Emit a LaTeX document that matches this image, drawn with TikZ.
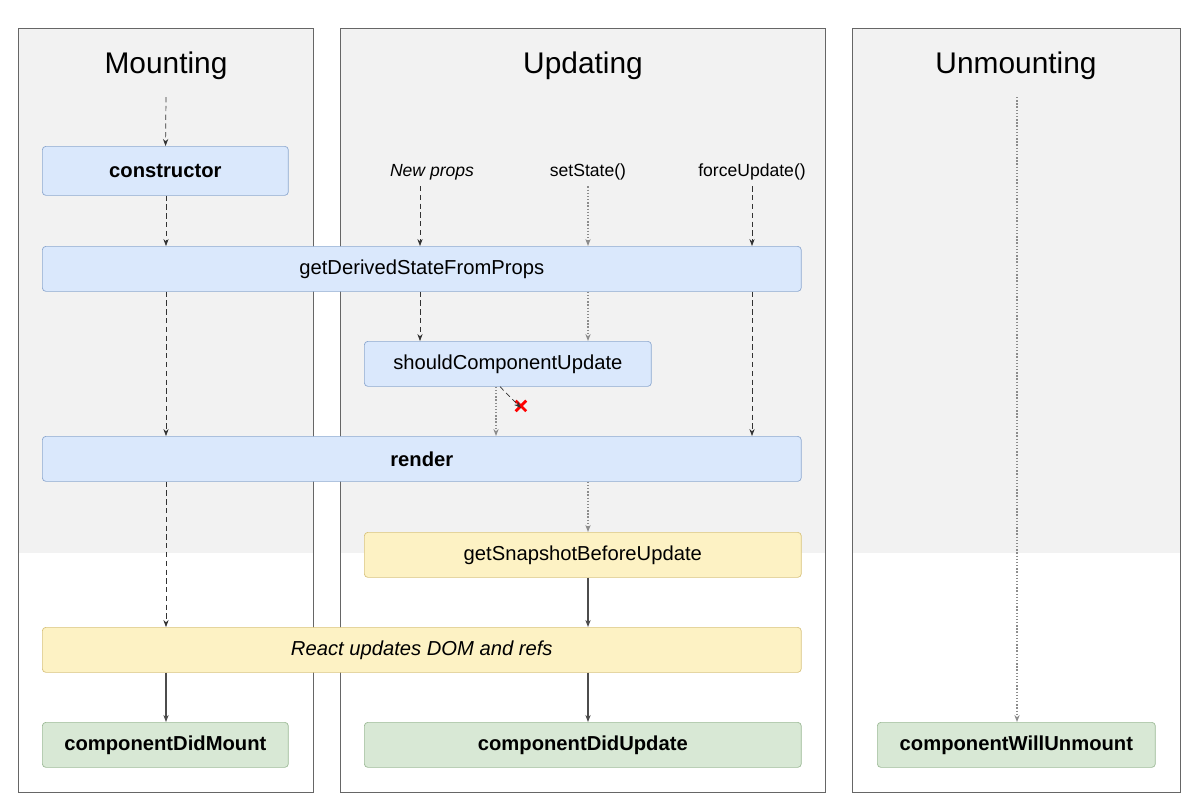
\documentclass[tikz,border=0pt]{standalone}
\usepackage{fontspec}
\setmainfont{Liberation Sans}
\usetikzlibrary{arrows.meta}
\definecolor{blueBox}{HTML}{DAE8FC}
\definecolor{blueLine}{HTML}{8EA9D0}
\definecolor{yellowBox}{HTML}{FDF2C4}
\definecolor{yellowLine}{HTML}{D9C47E}
\definecolor{greenBox}{HTML}{D8E8D5}
\definecolor{greenLine}{HTML}{9EBB98}
\definecolor{panelTop}{HTML}{F2F2F2}
\tikzset{
    phase/.style={draw=black!60, line width=0.5pt},
    stage/.style={rectangle, rounded corners=2pt, anchor=north west, inner sep=0pt, font=\fontsize{11.5}{14}\selectfont},
    blueStage/.style={stage, fill=blueBox, draw=blueLine},
    yellowStage/.style={stage, fill=yellowBox, draw=yellowLine},
    greenStage/.style={stage, fill=greenBox, draw=greenLine},
    title/.style={font=\fontsize{17}{20}\selectfont},
    trigger/.style={font=\fontsize{10}{12}\selectfont},
    flow/.style={-{Stealth[length=4pt]}, black!80, densely dashed},
    dotflow/.style={-{Stealth[length=4pt]}, black!45, densely dotted, thick},
    solid flow/.style={-{Stealth[length=4pt]}, black!70, thick}
}
\begin{document}
\begin{tikzpicture}[x=0.02cm, y=-0.02cm]
    \useasboundingbox (0,0) rectangle (1185,796);
    % phase panels
    \foreach \xa/\xb in {18/313, 340/825, 852/1180} {
        \fill[panelTop] (\xa,28) rectangle (\xb,553);
        \fill[white] (\xa,553) rectangle (\xb,792);
        \draw[phase] (\xa,28) rectangle (\xb,792);
    }
    \node[title] (mounting) at (166,66) {Mounting};
    \node[title] (updating) at (583,66) {Updating};
    \node[title] (unmounting) at (1016,66) {Unmounting};
    \coordinate (mountStart) at (166,97);
    \coordinate (unmountStart) at (1017,97);

    \node (constructor) [blueStage, minimum width=4.92cm, minimum height=0.98cm] at (42,146) {\textbf{constructor}};
    \node (derived) [blueStage, minimum width=15.18cm, minimum height=0.9cm] at (42,246) {getDerivedStateFromProps};
    \node (should) [blueStage, minimum width=5.74cm, minimum height=0.9cm] at (364,341) {shouldComponentUpdate};
    \node (render) [blueStage, minimum width=15.18cm, minimum height=0.9cm] at (42,436) {\textbf{render}};
    \node (snapshot) [yellowStage, minimum width=8.74cm, minimum height=0.9cm] at (364,532) {getSnapshotBeforeUpdate};
    \node (dom) [yellowStage, minimum width=15.18cm, minimum height=0.9cm] at (42,627) {\textit{React updates DOM and refs}};
    \node (didMount) [greenStage, minimum width=4.92cm, minimum height=0.9cm] at (42,722) {\textbf{componentDidMount}};
    \node (didUpdate) [greenStage, minimum width=8.74cm, minimum height=0.9cm] at (364,722) {\textbf{componentDidUpdate}};
    \node (willUnmount) [greenStage, minimum width=5.56cm, minimum height=0.9cm] at (877,722) {\textbf{componentWillUnmount}};

    \node (newProps) [trigger] at (432,172) {\textit{New props}};
    \node (setState) [trigger] at (588,172) {setState()};
    \node (force) [trigger] at (752,172) {forceUpdate()};
    \node (cancel) [inner sep=1pt] at (523,408) {};
    \draw[red, line width=1.6pt] (cancel.north west) ++(-3pt,-3pt) -- ++(6pt,6pt) ++(-6pt,0) -- ++(6pt,-6pt);

    % mounting
    \draw[flow] (mountStart) -- (constructor);
    \draw[flow] (constructor.south -| 166,0) -- (derived.north -| 166,0);
    \draw[flow] (derived.south -| 166,0) -- (render.north -| 166,0);
    \draw[flow] (render.south -| 166,0) -- (dom.north -| 166,0);
    \draw[solid flow] (dom.south -| 166,0) -- (didMount.north -| 166,0);
    % updating
    \draw[flow] (newProps.south -| 420,0) -- (derived.north -| 420,0);
    \draw[flow] (derived.south -| 420,0) -- (should.north -| 420,0);
    \draw[dotflow] (setState.south) -- (derived.north -| setState);
    \draw[dotflow] (derived.south -| 588,0) -- (should.north -| 588,0);
    \draw[flow] (force.south) -- (derived.north -| force);
    \draw[flow] (derived.south -| force) -- (render.north -| force);
    \draw[dotflow] (should.south -| 496,0) -- (render.north -| 496,0);
    \draw[flow] (should.south -| 500,0) -- (cancel.west);
    \draw[dotflow] (render.south -| 588,0) -- (snapshot.north -| 588,0);
    \draw[solid flow] (snapshot.south -| 588,0) -- (dom.north -| 588,0);
    \draw[solid flow] (dom.south -| 588,0) -- (didUpdate.north -| 588,0);
    % unmounting
    \draw[dotflow] (unmountStart) -- (willUnmount.north -| unmountStart);
\end{tikzpicture}
\end{document}
